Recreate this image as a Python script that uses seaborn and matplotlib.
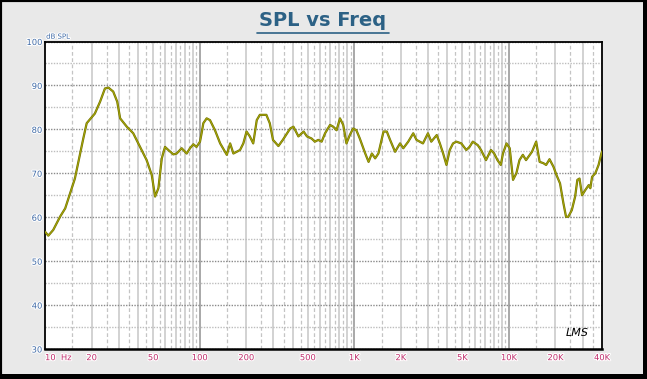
import matplotlib
matplotlib.use("Agg")
import matplotlib.pyplot as plt
import matplotlib.patheffects as pe
from matplotlib.patches import Rectangle
from matplotlib.lines import Line2D
from matplotlib.ticker import MultipleLocator, NullLocator
import numpy as np
import pandas as pd
import seaborn as sns

# SPL response (Hz, dB SPL)
freq_hz = [
    10.0, 10.5, 11.3, 12.5, 13.5, 14.5, 15.6, 16.8, 17.7, 18.6,
    21.0, 22.7, 24.4, 25.7, 27.6, 29.3, 30.6, 33.8, 37.2, 41.2,
    45.4, 49.0, 51.5, 54.1, 56.9, 59.7, 62.7, 67.6, 71.0, 76.5,
    82.4, 86.6, 91.0, 95.4, 100.5, 103.4, 105.6, 111, 116.6, 125.6,
    135.7, 149.8, 157.4, 165.2, 182.4, 191.6, 201, 211, 222, 234,
    245, 270, 284, 298, 323, 345, 385, 404, 435, 470,
    494, 530, 556, 585, 615, 647, 697, 731, 768, 808,
    848, 890, 935, 983, 1031, 1083, 1177, 1237, 1299, 1364,
    1432, 1545, 1623, 1704, 1835, 1976, 2074, 2233, 2405, 2526,
    2780, 2994, 3145, 3413, 3575, 3755, 3944, 4143, 4350, 4570,
    4920, 5300, 5560, 5840, 6290, 6600, 7110, 7650, 8030, 8430,
    8860, 9150, 9640, 10120, 10630, 11170, 11700, 12300, 12900, 14100,
    15000, 15800, 16700, 17400, 18300, 19400, 20300, 21400, 22500, 23400,
    24200, 25500, 26800, 27700, 28600, 29700, 31200, 32800, 33600, 34500,
    36200, 38000, 39600, 40000,
]
spl_db = [
    56.7, 55.8, 57.1, 60.1, 62.0, 65.4, 68.8, 74.2, 78.0, 81.4,
    83.6, 86.3, 89.3, 89.5, 88.6, 86.3, 82.5, 80.6, 79.1, 76.0,
    73.0, 69.6, 64.7, 66.6, 73.4, 76.0, 75.3, 74.3, 74.5, 75.7,
    74.5, 75.7, 76.6, 76.0, 77.2, 79.5, 81.4, 82.5, 82.1, 79.8,
    76.8, 74.2, 76.8, 74.5, 75.3, 76.8, 79.5, 78.4, 76.8, 82.1,
    83.3, 83.3, 81.4, 77.6, 76.2, 77.6, 80.2, 80.6, 78.4, 79.5,
    78.4, 77.9, 77.2, 77.6, 77.2, 79.1, 81.0, 80.6, 79.8, 82.5,
    81.0, 76.8, 78.7, 80.2, 79.8, 78.0, 74.5, 72.6, 74.5, 73.4,
    74.5, 79.5, 79.5, 77.6, 74.9, 76.8, 75.7, 77.2, 79.1, 77.6,
    76.8, 79.1, 77.2, 78.7, 76.8, 74.5, 71.9, 75.3, 76.8, 77.2,
    76.8, 75.3, 76.0, 77.2, 76.4, 75.3, 73.0, 75.3, 74.5, 73.0,
    71.9, 74.5, 76.8, 75.7, 68.5, 70.0, 73.0, 74.2, 73.0, 74.9,
    77.2, 72.6, 72.3, 71.9, 73.2, 71.5, 69.6, 67.7, 63.2, 60.1,
    60.1, 61.6, 64.7, 68.5, 68.8, 65.0, 66.2, 67.3, 66.6, 69.2,
    70.0, 71.9, 74.5, 75.0,
]

x_ticks = [10, 20, 50, 100, 200, 500, 1000, 2000, 5000, 10000, 20000, 40000]
x_labels = ["10  Hz", "20", "50", "100", "200", "500", "1K", "2K", "5K", "10K", "20K", "40K"]
y_ticks = [30, 40, 50, 60, 70, 80, 90, 100]

df = pd.DataFrame({"freq": freq_hz, "spl": spl_db})

sns.set_style("white")
plt.rcParams["font.family"] = ["DejaVu Sans"]

fig = plt.figure(figsize=(6.47, 3.79), dpi=100)
fig.patch.set_facecolor("#e9e9e9")
ax = fig.add_axes([0.0696, 0.0792, 0.8609, 0.8113])
ax.set_facecolor("white")

ax.set_xscale("log")
ax.set_xlim(10, 40000)
ax.set_ylim(30, 100)
ax.xaxis.set_minor_locator(NullLocator())

# grid: solid at n x decade, dashed at (n + 0.5) x decade, darker decades
for dec in [10, 100, 1000, 10000]:
    for n in range(1, 10):
        f = n * dec
        if 10 < f < 40000:
            ax.axvline(f, color="#9a9a9a" if n == 1 else "#cbcbcb",
                       lw=1.2, zorder=0)
        fh = (n + 0.5) * dec
        if fh < 40000:
            ax.axvline(fh, color="#c4c4c4", lw=0.9, ls=(0, (3, 2)), zorder=0)

ax.yaxis.set_minor_locator(MultipleLocator(5))
ax.grid(False)
ax.grid(which="minor", axis="y", color="#bdbdbd", lw=1.0, ls=(0, (1, 1)), zorder=0)
ax.grid(which="major", axis="y", color="#8a8a8a", lw=1.0, ls=(0, (1, 1)), zorder=0)
ax.set_axisbelow(True)

sns.lineplot(data=df, x="freq", y="spl", ax=ax, color="#a3a30a", lw=0.8,
             legend=False, zorder=3)
ax.lines[-1].set_path_effects([pe.Stroke(linewidth=1.6, foreground="#707000"), pe.Normal()])

ax.set_xticks(x_ticks)
ax.set_xticklabels(x_labels)
ax.set_yticks(y_ticks)
ax.set_yticklabels([str(v) for v in y_ticks])
ax.tick_params(axis="both", which="both", length=0)
ax.tick_params(axis="x", labelsize=6, labelcolor="#c0306e", pad=3)
ax.tick_params(axis="y", labelsize=6, labelcolor="#3f6aa6", pad=2)
halo = [pe.withStroke(linewidth=1.5, foreground="white")]
for t in ax.get_xticklabels() + ax.get_yticklabels():
    t.set_path_effects(halo)
ax.get_xticklabels()[0].set_horizontalalignment("left")
ax.set_xlabel("")
ax.set_ylabel("")

for side in ["top", "left", "right", "bottom"]:
    ax.spines[side].set_visible(True)
    ax.spines[side].set_color("black")
    ax.spines[side].set_linewidth(1.3)
ax.spines["bottom"].set_linewidth(1.8)

ax.text(0.002, 1.006, "dB SPL", transform=ax.transAxes, fontsize=5,
        color="#3f6aa6", ha="left", va="bottom", path_effects=halo)
ax.text(0.955, 0.035, "LMS", transform=ax.transAxes, fontsize=8,
        style="italic", color="black", ha="center", va="bottom")

# title, underlined
fig.text(0.499, 0.945, "SPL vs Freq", fontsize=14, fontweight="bold",
         color="#2c6185", ha="center", va="center")
fig.add_artist(Line2D([0.397, 0.601], [0.914, 0.914], color="#2c6185", lw=1.2))

# window frame
fig.add_artist(Rectangle((0, 0), 1, 1, transform=fig.transFigure, fill=False,
                         ec="black", lw=3))
fig.add_artist(Rectangle((0.9935, 0), 0.0065, 1, transform=fig.transFigure,
                         fc="black", ec="none"))
fig.add_artist(Rectangle((0, 0), 1, 0.014, transform=fig.transFigure,
                         fc="black", ec="none"))

fig.savefig("out.png", dpi=100, facecolor=fig.get_facecolor())
